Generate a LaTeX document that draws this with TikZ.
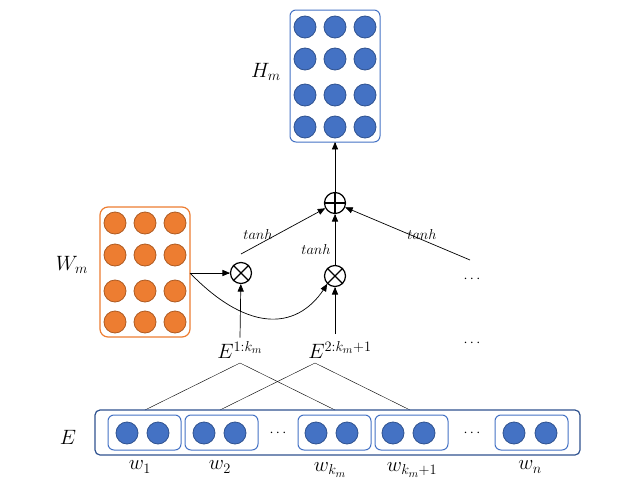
\documentclass[tikz,border=0pt]{standalone}
\usepackage{tikz}
\usetikzlibrary{arrows}
\definecolor{cblue}{RGB}{68,114,196}
\definecolor{dblue}{RGB}{47,82,143}
\definecolor{corange}{RGB}{237,125,49}
\definecolor{dorange}{RGB}{174,90,33}
\tikzset{
  bdot/.style={circle,fill=cblue,draw=dblue,line width=0.8pt,minimum size=22pt,inner sep=0pt},
  odot/.style={circle,fill=corange,draw=dorange,line width=0.8pt,minimum size=22pt,inner sep=0pt},
  bbox/.style={draw=cblue,rounded corners=6pt,line width=1pt},
  obox/.style={draw=corange,rounded corners=8pt,line width=1.2pt},
  op/.style={circle,draw,line width=1.2pt,minimum size=21pt,inner sep=0pt},
  arr/.style={-triangle 45,line width=0.7pt},
  lab/.style={font=\fontsize{21}{24}\selectfont},
  tlab/.style={font=\fontsize{14}{16}\selectfont}
}
\begin{document}
\begin{tikzpicture}[x=1pt,y=-1pt]
\useasboundingbox (0,0) rectangle (641,490);
% H_m
\draw[bbox] (290,10) rectangle (380,142);
\foreach \y in {27,59,95,127}
  \foreach \x in {305,335,365}
    \node[bdot] at (\x,\y) {};
\node[lab] at (266,72) {$H_m$};
% W_m
\draw[obox] (100,207) rectangle (190,337);
\foreach \y in {223,255,291,322}
  \foreach \x in {115,145,175}
    \node[odot] at (\x,\y) {};
\node[lab] at (72,265) {$W_m$};
\coordinate (wr) at (190,273);
% operators
\node[op] (sum) at (335,203) {};
\draw[line width=1.2pt] (sum.north) -- (sum.south) (sum.west) -- (sum.east);
\node[op] (m1) at (241,273) {};
\draw[line width=1.2pt] (m1.north west) -- (m1.south east) (m1.north east) -- (m1.south west);
\node[op] (m2) at (335,276) {};
\draw[line width=1.2pt] (m2.north west) -- (m2.south east) (m2.north east) -- (m2.south west);
\draw[arr] (sum) -- (335,142);
\draw[arr] (wr) -- (m1);
\draw[arr] (wr) .. controls (250,335) and (300,330) .. (m2.south west);
\coordinate (t1) at (241,254);
\coordinate (t3) at (470,260);
\draw[arr] (t1) -- (sum);
\draw[arr] (m2) -- (sum);
\draw[arr] (t3) -- (sum);
\node[tlab] at (258,234) {$tanh$};
\node[tlab] at (316,249) {$tanh$};
\node[tlab] at (422,234) {$tanh$};
\node[tlab] at (472,279) {$\cdots$};
\node[tlab] at (472,343) {$\cdots$};
% E windows
\node[lab] (e1) at (240,350) {$E^{1:k_m}$};
\node[lab] (e2) at (340,350) {$E^{2:k_m+1}$};
\coordinate (a2) at (335,334);
\draw[arr] (e1.north) -- (m1);
\draw[arr] (a2) -- (m2);
\coordinate (p1) at (240,363);
\coordinate (p2) at (315,363);
\draw (145,410) -- (p1) -- (335,410);
\draw (220,410) -- (p2) -- (410,410);
% E
\draw[draw=dblue,rounded corners=5pt,line width=1.2pt] (95,410) rectangle (580,455);
\foreach \a in {108,185,298,375,495}
  \draw[bbox] (\a,415) rectangle ++(73,35);
\foreach \x in {127,158,204,235,316,347,393,424,514,546}
  \node[bdot] at (\x,433) {};
\node[tlab] at (278,433) {$\cdots$};
\node[tlab] at (472,433) {$\cdots$};
\node[lab] at (68,437) {$E$};
\node[lab] at (140,467) {$w_1$};
\node[lab] at (220,467) {$w_2$};
\node[lab] at (330,470) {$w_{k_m}$};
\node[lab] at (412,470) {$w_{k_m+1}$};
\node[lab] at (530,467) {$w_n$};
\end{tikzpicture}
\end{document}
